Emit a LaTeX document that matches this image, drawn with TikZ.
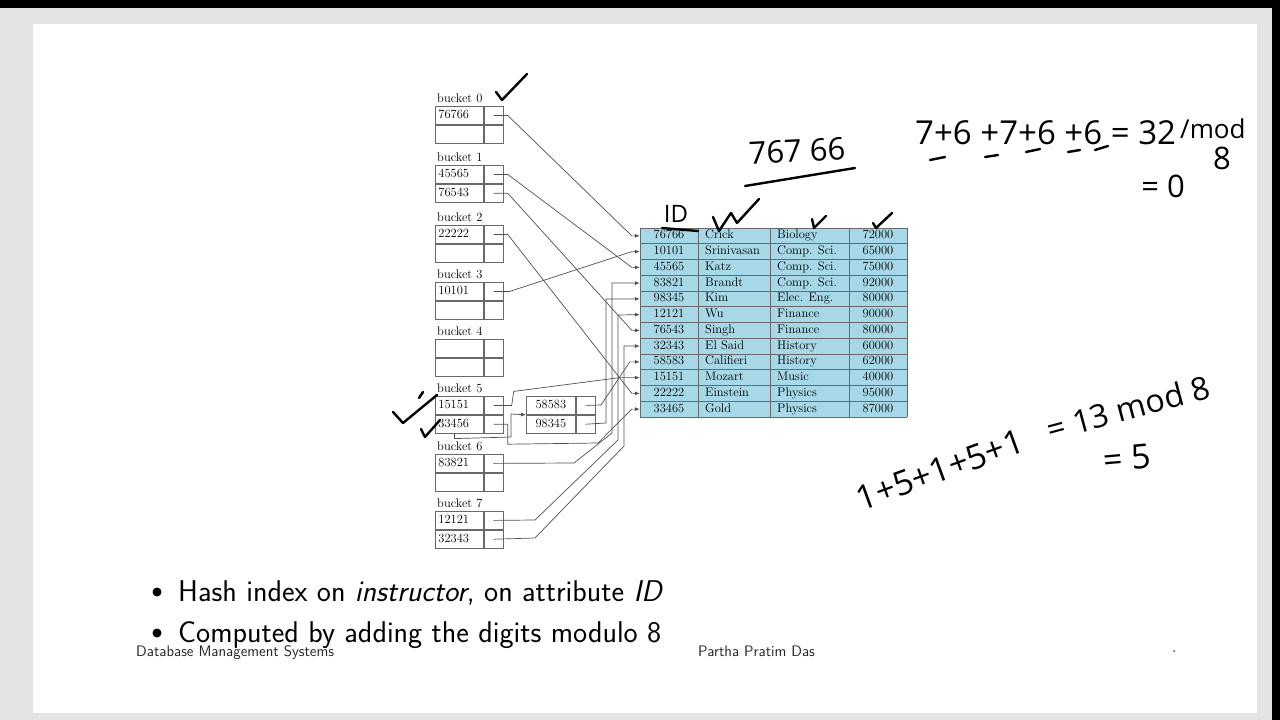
\documentclass[tikz,border=0pt]{standalone}
\usepackage{fontspec}
\newfontfamily\handfont{Open Sans}
\usetikzlibrary{arrows.meta, positioning, calc}
\definecolor{framegray}{RGB}{228,228,228}
\definecolor{tableblue}{RGB}{166,216,231}
\definecolor{linegray}{RGB}{80,80,80}
\definecolor{boxgray}{RGB}{105,105,105}
\newcommand\figfont{\fontsize{12.5}{13}\selectfont}
\tikzset{
    cellbox/.style={draw=boxgray, line width=0.8pt, minimum height=18pt, inner sep=0pt, anchor=north west,
        font=\figfont, text height=8.5pt, text depth=2.5pt},
    valcell/.style={cellbox, minimum width=48pt, text width=42pt, align=left},
    ptrcell/.style={cellbox, minimum width=19pt},
    ovcell/.style={cellbox, minimum width=49pt, align=center},
    bucketlabel/.style={anchor=base west, inner sep=0pt, font=\figfont},
    tabcell/.style={minimum height=15.75pt, inner sep=0pt, font=\figfont, text height=8.5pt, text depth=2.5pt},
    tabline/.style={draw=boxgray, line width=0.7pt},
    ptr/.style={draw=linegray, line width=0.7pt, -{Latex[length=5pt,width=4pt]}},
    hand/.style={line width=2.4pt, line cap=round, line join=round},
    handtext/.style={font=\handfont\fontsize{31}{31}\selectfont, inner sep=0pt},
    slidetext/.style={font=\sffamily\fontsize{30}{32}\selectfont, anchor=base west, inner sep=0pt},
    foottext/.style={font=\sffamily\fontsize{15.2}{16}\selectfont, anchor=base west, inner sep=0pt, text=black!85},
}
\begin{document}
\begin{tikzpicture}[x=1pt, y=-1pt]
\useasboundingbox (0,0) rectangle (1280,720);
% slide frame
\fill[framegray] (0,0) rectangle (1280,720);
\fill[black] (0,0) rectangle (1280,8);
\fill[black] (1272,0) rectangle (1280,720);
\fill[white] (33,24) rectangle (1257,713);

% buckets
\foreach \i/\top/\va/\vb in {0/106/76766/{}, 1/165/45565/76543, 2/225/22222/{}, 3/282/10101/{},
    4/339/{}/{}, 5/396/15151/33456, 6/454/83821/{}, 7/511/12121/32343} {
    \node[valcell] (b\i v) at (435,\top) {\va};
    \node[ptrcell] (b\i p) at (b\i v.north east) {};
    \node[valcell] (b\i w) at (b\i v.south west) {\vb};
    \node[ptrcell] (b\i q) at (b\i w.north east) {};
    \node[bucketlabel] at (437,{\top-4}) {bucket \i};
}

% overflow bucket
\node[ovcell] (ov) at (526,396) {58583};
\node[ptrcell] (op) at (ov.north east) {};
\node[ovcell] (ow) at (ov.south west) {98345};
\node[ptrcell] (oq) at (ow.north east) {};

% instructor table
\fill[tableblue] (640,228) rectangle (907,417);
\foreach \id/\name/\dept/\sal [count=\r] in {76766/Crick/Biology/72000, 10101/Srinivasan/Comp. Sci./65000,
    45565/Katz/Comp. Sci./75000, 83821/Brandt/Comp. Sci./92000, 98345/Kim/Elec. Eng./80000,
    12121/Wu/Finance/90000, 76543/Singh/Finance/80000, 32343/El Said/History/60000,
    58583/Califieri/History/62000, 15151/Mozart/Music/40000, 22222/Einstein/Physics/95000,
    33465/Gold/Physics/87000} {
    \node[tabcell, minimum width=58pt] (r\r) at (669,{220.125+15.75*\r}) {\id};
    \node[tabcell, anchor=west] at (705,{220.125+15.75*\r}) {\name};
    \node[tabcell, anchor=west] at (777,{220.125+15.75*\r}) {\dept};
    \node[tabcell] at (878,{220.125+15.75*\r}) {\sal};
}
\foreach \k in {0,...,12}
    \draw[tabline] (640,{228+15.75*\k}) -- (907,{228+15.75*\k});
\foreach \c in {640,698,770,849,907}
    \draw[tabline] (\c,228) -- (\c,417);

% pointers into the table
\draw[ptr] (b0p.center) -- ++(14,0) -- ([xshift=-8pt]r1.west) -- (r1.west);
\draw[ptr] (b1p.center) -- ++(14,0) -- ([xshift=-8pt]r3.west) -- (r3.west);
\draw[ptr] (b1q.center) -- ++(14,0) -- ([xshift=-8pt]r7.west) -- (r7.west);
\draw[ptr] (b2p.center) -- ++(14,0) -- ([xshift=-8pt]r11.west) -- (r11.west);
\draw[ptr] (b3p.center) -- ++(16,0) -- ([xshift=-8pt]r2.west) -- (r2.west);
\draw[ptr] (b5p.center) -- ++(18,0) -- ++(2,-14) -- ([xshift=-20pt]r10.west) -- (r10.west);
\draw[ptr] (b5q.center) -- ++(14,0) -- ++(0,20) -- (598,443) -- ([xshift=-8pt]r12.west) -- (r12.west);
\draw[ptr] (b6p.center) -- (574,463) -- (612,433) -- (612,283) -- (r4.west);
\draw[ptr] (b7p.center) -- (535,520) -- (618,440) -- (618,315) -- (r6.west);
\draw[ptr] (b7q.center) -- (535,538) -- (624,446) -- (624,346) -- (r8.west);
\draw[ptr] (op.center) -- (601,405) -- ([xshift=-10pt]r9.west) -- (r9.west);
\draw[ptr] (oq.center) -- (606,423) -- (606,299) -- (r5.west);
% overflow chain
\draw[ptr] ([xshift=-5pt]b5w.south) -- ++(0,5) -- (511,437) -- (511,414) -- (ov.south west);

% slide text
\fill (157,592) circle (4.5);
\fill (157,633) circle (4.5);
\node[slidetext] (bul1) at (178,601) {Hash index on \textit{instructor}, on attribute \textit{ID}};
\node[slidetext] (bul2) at (178,642) {Computed by adding the digits modulo 8};
\node[foottext] (foot1) at (136,656) {Database Management Systems};
\node[foottext] (foot2) at (698,656) {Partha Pratim Das};
\fill[black!70] (1174,651) circle (1);

% handwritten notes
\node[handtext, rotate=3] (num) at (797,151) {767 66};
\draw[hand] (745,186) -- (855,168);
\node[handtext, font=\handfont\fontsize{24}{24}\selectfont] (idnote) at (676,214) {ID};
\draw[hand] (662,228) -- (698,231);
\draw[hand] (496,92) -- (502,100) -- (527,74);
\draw[hand] (713,217) -- (719,231) -- (731,213) -- (737,223) -- (759,199);
\draw[hand] (812,219) -- (814,228) -- (826,216);
\draw[hand] (873,223) -- (876,228) -- (892,213);
\draw[hand] (393,412) -- (403,423) -- (437,395);
\draw[hand] (421,429) -- (425,437) -- (440,420);
\draw[hand] (419,398) -- (423,392);
\node[handtext, anchor=base west, font=\handfont\fontsize{33}{33}\selectfont] (sum1) at (915,144) {7+6 +7+6 +6 = 32};
\node[handtext, anchor=base west, font=\handfont\fontsize{26}{26}\selectfont] (mod1) at (1180,138) {/mod};
\node[handtext] (eight1) at (1222,158) {8};
\node[handtext] (res1) at (1163,186) {= 0};
\draw[hand] (930,160) -- (945,157);
\draw[hand] (985,157) -- (998,155);
\draw[hand] (1026,152) -- (1040,149);
\draw[hand] (1068,152) -- (1080,150);
\draw[hand] (1095,150) -- (1108,146);
\node[handtext, font=\handfont\fontsize{34}{34}\selectfont, rotate=20] (sum2) at (940,470) {1+5+1+5+1};
\node[handtext, font=\handfont\fontsize{32}{32}\selectfont, rotate=15] (mod2) at (1128,408) {= 13 mod 8};
\node[handtext, font=\handfont\fontsize{34}{34}\selectfont, rotate=5] (res2) at (1127,458) {= 5};
\end{tikzpicture}
\end{document}
